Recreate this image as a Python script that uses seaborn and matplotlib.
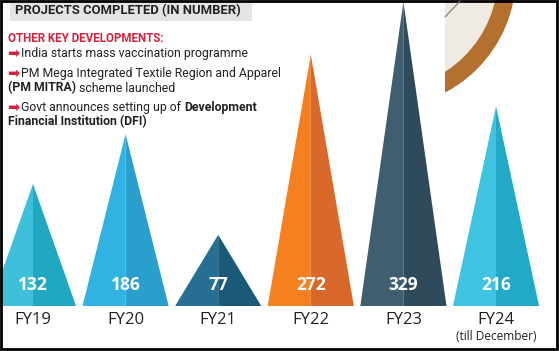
import numpy as np
import pandas as pd
import matplotlib
matplotlib.use('Agg')
import matplotlib.pyplot as plt
import seaborn as sns
from matplotlib.patches import Polygon, Rectangle, Circle

# Data
categories = ['FY19', 'FY20', 'FY21', 'FY22', 'FY23', 'FY24']
values = [132, 186, 77, 272, 329, 216]
left_colors = ['#3ec0db', '#30b2e2', '#266f93', '#f5801f', '#3f5e70', '#3ec3e1']
right_colors = ['#20a8c0', '#2a9fce', '#1b5979', '#d9692a', '#2e4a5b', '#22a9c6']

title = 'PROJECTS COMPLETED (IN NUMBER)'
sub_title = 'OTHER KEY DEVELOPMENTS:'
red = '#d6203c'
dark = '#222222'

sns.set_theme(style='white')
plt.rcParams['font.family'] = ['Open Sans', 'DejaVu Sans']

df = pd.DataFrame({'year': categories, 'projects': values})

fig = plt.figure(figsize=(5.59, 3.51), dpi=100)
ax = fig.add_axes([0, 45 / 351, 1, 306 / 351])

# seaborn bars give the positions; turn each one into a two-tone triangle
sns.barplot(data=df, x='year', y='projects', width=0.93, color='white', ax=ax)
for i, bar in enumerate(list(ax.patches)):
    x0 = bar.get_x()
    w = bar.get_width()
    h = bar.get_height()
    xc = x0 + w / 2
    ax.add_patch(Polygon([(x0, 0), (xc, h), (xc, 0)], closed=True,
                         facecolor=left_colors[i], edgecolor='none'))
    ax.add_patch(Polygon([(xc, 0), (xc, h), (x0 + w, 0)], closed=True,
                         facecolor=right_colors[i], edgecolor='none'))
    bar.set_visible(False)
    ax.text(xc, 23, str(values[i]), ha='center', va='center', color='white',
            fontsize=12.5, fontweight='bold')
    ax.text(xc, -15.5, categories[i], ha='center', va='center', color=dark,
            fontsize=12)
ax.text(5, -33.5, '(till December)', ha='center', va='center', color=dark,
        fontsize=8.6)

ax.set_xlim(-0.356, 5.68)
ax.set_ylim(0, 331)
ax.axis('off')

# overlay in pixel units for header text and decorations
deco = fig.add_axes([0, 0, 1, 1])
deco.set_xlim(0, 559)
deco.set_ylim(351, 0)
deco.axis('off')
deco.patch.set_alpha(0)

# decorative corner piece at top right
clip = Rectangle((445, 0), 120, 97, transform=deco.transData)
for r, c in [(133, '#b4702f'), (115, '#efebe3')]:
    circ = Circle((383, -25), r, facecolor=c, edgecolor='none')
    deco.add_patch(circ)
    circ.set_clip_path(clip)
deco.plot([445, 460], [17, 1], color='#777777', lw=0.8)

# header
deco.add_patch(Rectangle((10, 1), 242, 20, facecolor='#e4e4e4', edgecolor='none'))
deco.text(15, 11, title, ha='left', va='center', color=dark, fontsize=9.4,
          fontweight='bold', fontfamily='Roboto')
deco.text(8, 38, sub_title, ha='left', va='center', color=red, fontsize=8.3,
          fontweight='bold', fontfamily='Roboto')

renderer = fig.canvas.get_renderer()


def line(x, y, parts):
    for s, bold in parts:
        t = deco.text(x, y, s, ha='left', va='center', color=dark, fontsize=8.85,
                      fontweight='bold' if bold else 'normal', fontfamily='Roboto')
        x += t.get_window_extent(renderer).width


def arrow(y):
    deco.text(7, y, '\u27a1', ha='left', va='center', color=red, fontsize=10.5,
              fontfamily='DejaVu Sans')


arrow(53)
line(21, 53, [('India starts mass vaccination programme', False)])
arrow(73)
line(21, 73, [('PM Mega Integrated Textile Region and Apparel', False)])
line(8, 88, [('(PM MITRA)', True), (' scheme launched', False)])
arrow(107)
line(21, 107, [('Govt announces setting up of ', False), ('Development', True)])
line(8, 122, [('Financial Institution (DFI)', True)])

# frame
deco.add_patch(Rectangle((1, 1), 556, 348, fill=False, edgecolor='black', lw=2))

fig.savefig('out.png', dpi=100)
